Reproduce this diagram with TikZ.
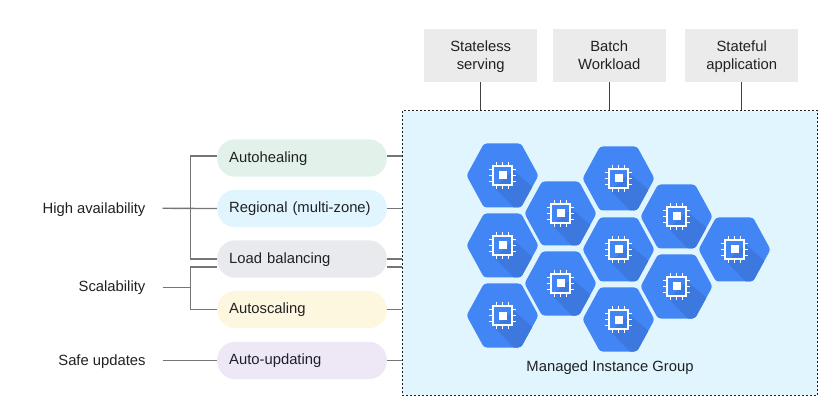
\documentclass[tikz,border=0pt]{standalone}
\usepackage{fontspec}
\setmainfont{Liberation Sans}
\definecolor{ink}{HTML}{202124}
\definecolor{wire}{HTML}{757575}
\definecolor{panelblue}{HTML}{E1F5FE}
\definecolor{boxgrey}{HTML}{EBEBEB}
\definecolor{hexblue}{HTML}{4285F4}
\definecolor{hexshade}{HTML}{3D78DE}
\definecolor{pillgreen}{HTML}{E2F1E9}
\definecolor{pillgrey}{HTML}{E8EAED}
\definecolor{pillyellow}{HTML}{FEF7E0}
\definecolor{pillpurple}{HTML}{EDE7F6}
\newcommand{\twolines}[2]{\rule{0pt}{10pt}#1\\#2\rule[-2.5pt]{0pt}{2.5pt}}
\tikzset{
  x=0.75pt, y=-0.75pt,
  every node/.style={font=\fontsize{11.1}{13.2}\selectfont, text=ink},
  pill/.style={draw=none, minimum width=127.2pt, minimum height=28pt, rounded corners=13.5pt,
    inner xsep=9pt, inner ysep=0pt, text width=109.2pt, align=left, text height=9.4pt, text depth=3pt},
  topbox/.style={fill=boxgrey, minimum width=85pt, minimum height=39.3pt, inner sep=0pt, align=center},
  lab/.style={inner sep=0pt, text height=9.4pt, text depth=3pt},
  wire/.style={draw=wire, line width=1pt},
  topwire/.style={draw=ink!85, line width=1pt},
  pics/vm/.style={code={
    \begin{scope}
      \path[rounded corners=2.2pt, clip] (-36,0) -- (-18.5,-32) -- (18.5,-32) -- (36,0) -- (18.5,32) -- (-18.5,32) -- cycle;
      \fill[hexblue] (-37,-33) rectangle (37,33);
      \fill[hexshade] (-8,12) -- (11,-5) -- (40,20) -- (40,40) -- (19,40) -- cycle;
    \end{scope}
    \draw[white, line width=1.5pt] (-9.5,-9.5) rectangle (9.5,9.5);
    \fill[white] (-4,-4) rectangle (4,4);
    \foreach \p in {-6,0,6} {
      \draw[white, line width=1.3pt] (\p,-9.5) -- (\p,-13.5);
      \draw[white, line width=1.3pt] (\p,9.5) -- (\p,13.5);
      \draw[white, line width=1.3pt] (-9.5,\p) -- (-13.5,\p);
      \draw[white, line width=1.3pt] (9.5,\p) -- (13.5,\p);
    }
  }}
}
\begin{document}
\begin{tikzpicture}
\useasboundingbox (0,0) rectangle (836,417);
\fill[white] (0,0) rectangle (836,417);

% panel
\node[draw=ink, fill=panelblue, line width=1.1pt, dash pattern=on 1.3pt off 1.7pt,
  minimum width=311.5pt, minimum height=213.5pt, inner sep=0pt] (panel) at (610,253) {};

% top boxes
\node[topbox] (stateless) at (480.7,55.5) {\twolines{Stateless}{serving}};
\node[topbox] (batch) at (609.2,55.5) {\twolines{Batch}{Workload}};
\node[topbox] (stateful) at (741.7,55.5) {\twolines{Stateful}{application}};
\draw[topwire] (stateless.south) -- (stateless.south |- panel.north);
\draw[topwire] (batch.south) -- (batch.south |- panel.north);
\draw[topwire] (stateful.south) -- (stateful.south |- panel.north);

% pills
\node[pill, fill=pillgreen] (heal) at (302,158) {Autohealing};
\node[pill, fill=panelblue] (regional) at (302,208.5) {Regional (multi-zone)};
\node[pill, fill=pillgrey] (load) at (302,259) {Load balancing};
\node[pill, fill=pillyellow] (scaling) at (302,309.5) {Autoscaling};
\node[pill, fill=pillpurple] (update) at (302,360.5) {Auto-updating};

% left labels
\node[lab] (ha) at (94,209) {High availability};
\node[lab] (sc) at (112,287) {Scalability};
\node[lab] (su) at (102,361) {Safe updates};

% free ends and junctions
\coordinate (haEnd) at (162.5,208.3);
\coordinate (scEnd) at (162.5,287.7);
\coordinate (suEnd) at (162.5,360.5);
\coordinate (haBus) at (190.7,156);
\coordinate (haBusLow) at (190.7,259);
\coordinate (scBusTop) at (190.7,267);
\coordinate (scBusLow) at (190.7,309.5);
\coordinate (loadLow) at (217.3,267);
\coordinate (loadLowR) at (386.7,267);

% left connectors
\draw[wire] (heal.west |- haBus) -- (haBus) -- (haBusLow) -- (load.west |- haBusLow);
\draw[wire] (haEnd) -- (regional.west);
\draw[wire] (loadLow) -- (scBusTop) -- (scBusLow) -- (scaling.west);
\draw[wire] (scEnd) -- (scEnd -| scBusTop);
\draw[wire] (suEnd) -- (update.west);

% right connectors
\draw[wire] (heal.east |- haBus) -- (panel.west |- haBus);
\draw[wire] (regional.east) -- (panel.west |- regional.east);
\draw[wire] (load.east) -- (panel.west |- load.east);
\draw[wire] (loadLowR) -- (panel.west |- loadLowR);
\draw[wire] (scaling.east) -- (panel.west |- scaling.east);
\draw[wire] (update.east) -- (panel.west |- update.east);

% instances
\pic (h1) at (502.5,175.5) {vm};
\pic (h2) at (560.5,213.5) {vm};
\pic (h3) at (618.5,178.5) {vm};
\pic (h4) at (676.5,216.5) {vm};
\pic (h5) at (734.5,249.5) {vm};
\pic (h6) at (502.5,245.5) {vm};
\pic (h7) at (618.5,249.5) {vm};
\pic (h8) at (560.5,283.5) {vm};
\pic (h9) at (676.5,286.5) {vm};
\pic (h10) at (502.5,315.5) {vm};
\pic (h11) at (618.5,319.5) {vm};

\node[lab] (mig) at (610,367) {Managed Instance Group};
\end{tikzpicture}
\end{document}
